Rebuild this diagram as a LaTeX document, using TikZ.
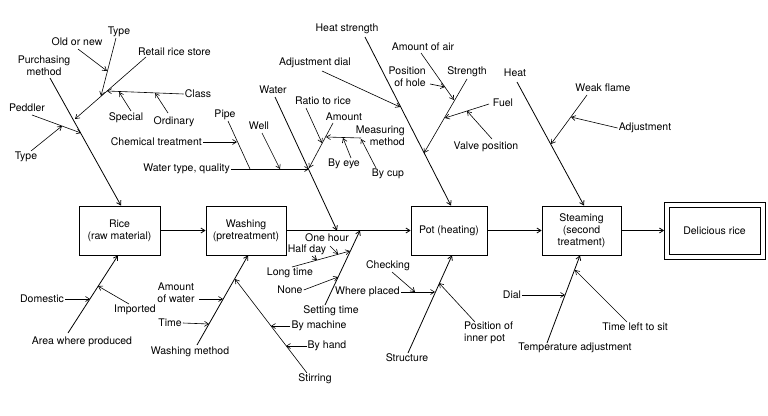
\documentclass[tikz,border=0pt]{standalone}
\usepackage{fontspec}
\setmainfont{TeX Gyre Heros}
\usetikzlibrary{arrows.meta}
\begin{document}
\begin{tikzpicture}[x=1pt,y=-1pt,>={Straight Barb[length=4pt,width=5pt]},
  font=\fontsize{10.5}{12}\selectfont,
  box/.style={draw,line width=0.8pt,minimum height=49pt,align=center,inner sep=2pt},
  lbl/.style={inner sep=1pt,align=center},
  bone/.style={line width=0.8pt},
  twig/.style={line width=0.6pt,->}]
\useasboundingbox (0,0) rectangle (768,415);
% process boxes on the spine
\node[box,minimum width=81pt] (rice) at (119.5,230.5) {Rice\\(raw material)};
\node[box,minimum width=80pt] (wash) at (246,230.5) {Washing\\(pretreatment)};
\node[box,minimum width=76pt] (pot) at (449,230.5) {Pot (heating)};
\node[box,minimum width=79pt] (steam) at (581.5,230.5) {Steaming\\(second\\treatment)};
\node[box,minimum width=91pt,minimum height=47pt] (result) at (714.5,230.5) {Delicious rice};
\draw[line width=0.8pt] ([shift={(-4.5pt,-4.5pt)}]result.south west) rectangle ([shift={(4.5pt,4.5pt)}]result.north east);
\draw[bone,->] (rice) -- (wash);
\draw[bone,->] (wash) -- (pot);
\draw[bone,->] (pot) -- (steam);
\draw[bone,->] (steam) -- ([xshift=-4.5pt]result.west);

% rice, upper
\node[lbl] (purch) at (44,66) {Purchasing\\method};
\node[lbl,anchor=west] (retail) at (137,52) {Retail rice store};
\node[lbl] (typeA) at (119,32) {Type};
\node[lbl] (oldnew) at (77,42) {Old or new};
\node[lbl] (class) at (198,94) {Class};
\node[lbl] (special) at (126,118) {Special};
\node[lbl] (ordin) at (174,122) {Ordinary};
\node[lbl] (peddler) at (27,108) {Peddler};
\node[lbl] (typeB) at (26,157) {Type};
\coordinate (pm) at (50,78);
\coordinate (rs) at (146,57); \coordinate (rsE) at (75,119);
\coordinate (ty) at (116,38); \coordinate (tyE) at (101,96);
\coordinate (on) at (78,49); \coordinate (onE) at (107,71);
\coordinate (clE) at (107,91);
\coordinate (sp) at (131,111); \coordinate (spE) at (119,92);
\coordinate (or) at (168,113); \coordinate (orE) at (155,93);
\coordinate (pd) at (32,115); \coordinate (pdE) at (81,133);
\coordinate (pt) at (31,151); \coordinate (ptE) at (62,126);
\draw[bone,->] (pm) -- ([xshift=1.5pt]rice.north);
\draw[twig] (rs) -- (rsE);
\draw[twig] (ty) -- (tyE);
\draw[twig] (on) -- (onE);
\draw[twig] (class.west) -- (clE);
\draw[twig] (sp) -- (spE);
\draw[twig] (or) -- (orE);
\draw[twig] (pd) -- (pdE);
\draw[twig] (pt) -- (ptE);

% washing, upper
\node[lbl] (water) at (273,90) {Water};
\node[lbl,anchor=east] (wtq) at (231,169) {Water type, quality};
\node[lbl] (pipe) at (225,115) {Pipe};
\node[lbl,anchor=east] (chem) at (203,142) {Chemical treatment};
\node[lbl] (well) at (259,126) {Well};
\node[lbl] (ratio) at (323,101) {Ratio to rice};
\node[lbl] (amount) at (344,117) {Amount};
\node[lbl,anchor=east,align=right] (meas) at (406,136) {Measuring\\method};
\node[lbl] (byeye) at (344,164) {By eye};
\node[lbl] (bycup) at (388,174) {By cup};
\coordinate (wa) at (275,97); \coordinate (waE) at (337,230.5);
\coordinate (wtqE) at (309,169);
\coordinate (pi) at (228,121); \coordinate (piE) at (250,169);
\coordinate (chemE) at (237,142);
\coordinate (we) at (262,133); \coordinate (weE) at (280,169);
\coordinate (am) at (333,123); \coordinate (amE) at (309,168);
\coordinate (rr) at (306,108); \coordinate (rrE) at (322,143);
\coordinate (ms) at (361,138); \coordinate (msE) at (326,137);
\coordinate (be) at (351,158); \coordinate (beE) at (343,138);
\coordinate (bc) at (376,168); \coordinate (bcE) at (361,139);
\draw[bone,->] (wa) -- (waE);
\draw[twig] (wtq.east) -- (wtqE);
\draw[line width=0.6pt] (pi) -- (piE);
\draw[twig] (chem.east) -- (chemE);
\draw[twig] (we) -- (weE);
\draw[twig] (am) -- (amE);
\draw[twig] (rr) -- (rrE);
\draw[twig] (ms) -- (msE);
\draw[twig] (be) -- (beE);
\draw[twig] (bc) -- (bcE);

% pot, upper
\node[lbl] (heatst) at (347,29) {Heat strength};
\node[lbl] (adjd) at (315,63) {Adjustment dial};
\node[lbl] (air) at (423,47) {Amount of air};
\node[lbl,anchor=east,align=right] (hole) at (427,77) {Position\\of hole};
\node[lbl] (strength) at (467,72) {Strength};
\node[lbl] (fuel) at (503,103) {Fuel};
\node[lbl] (valve) at (486,147) {Valve position};
\coordinate (hs) at (365,37);
\coordinate (ad) at (322,71); \coordinate (adE) at (400,107);
\coordinate (st) at (467,79); \coordinate (stE) at (424,153);
\coordinate (aa) at (421,53); \coordinate (aaE) at (454,100);
\coordinate (ph) at (430,84); \coordinate (phE) at (445,87);
\coordinate (fu) at (489,104); \coordinate (fuE) at (445,118);
\coordinate (vp) at (492,139); \coordinate (vpE) at (467,111);
\draw[bone,->] (hs) -- ([xshift=2pt]pot.north);
\draw[twig] (ad) -- (adE);
\draw[twig] (st) -- (stE);
\draw[twig] (aa) -- (aaE);
\draw[twig] (ph) -- (phE);
\draw[twig] (fu) -- (fuE);
\draw[twig] (vp) -- (vpE);

% steaming, upper
\node[lbl] (heat) at (515,73) {Heat};
\node[lbl] (weak) at (603,88) {Weak flame};
\node[lbl] (adj) at (645,128) {Adjustment};
\coordinate (he) at (517,82);
\coordinate (wf) at (587,95); \coordinate (wfE) at (551,144);
\coordinate (ajE) at (571,117);
\draw[bone,->] (he) -- ([xshift=2.5pt]steam.north);
\draw[twig] (wf) -- (wfE);
\draw[twig] (adj.west) -- (ajE);

% rice, lower
\node[lbl] (area) at (82,342) {Area where produced};
\node[lbl] (dom) at (42,299) {Domestic};
\node[lbl] (imp) at (135,310) {Imported};
\coordinate (ap) at (68,333);
\coordinate (domE) at (90,299);
\coordinate (im) at (129,304); \coordinate (imE) at (98,286);
\draw[bone,->] (ap) -- ([xshift=-1.5pt]rice.south);
\draw[twig] (dom.east) -- (domE);
\draw[twig] (im) -- (imE);

% washing, lower
\node[lbl] (amw) at (176,293) {Amount\\of water};
\node[lbl] (time) at (170,323) {Time};
\node[lbl] (wmeth) at (190,352) {Washing method};
\node[lbl] (stir) at (315,379) {Stirring};
\node[lbl] (bymach) at (319,326) {By machine};
\node[lbl] (byhand) at (327,346) {By hand};
\coordinate (wm) at (197,345);
\coordinate (aw) at (199,299); \coordinate (awE) at (223,299);
\coordinate (timeE) at (209,324);
\coordinate (sr) at (307,373); \coordinate (srE) at (235,279);
\coordinate (bmE) at (271,326);
\coordinate (bhE) at (286,346);
\draw[bone,->] (wm) -- ([xshift=2pt]wash.south);
\draw[twig] (aw) -- (awE);
\draw[twig] (time.east) -- (timeE);
\draw[twig] (sr) -- (srE);
\draw[twig] (bymach.west) -- (bmE);
\draw[twig] (byhand.west) -- (bhE);

% setting time
\node[lbl] (onehr) at (327,238) {One hour};
\node[lbl] (halfd) at (307,250) {Half day};
\node[lbl] (longt) at (290,273) {Long time};
\node[lbl] (none) at (290,290) {None};
\node[lbl] (sett) at (331,311) {Setting time};
\coordinate (se) at (325,305); \coordinate (seE) at (360,230.5);
\coordinate (lt) at (292,267); \coordinate (ltE) at (350,251);
\coordinate (hd) at (312,256); \coordinate (hdE) at (317,260);
\coordinate (oh) at (330,246); \coordinate (ohE) at (338,254);
\coordinate (noE) at (338,277);
\draw[bone,->] (se) -- (seE);
\draw[twig] (lt) -- (ltE);
\draw[twig] (hd) -- (hdE);
\draw[twig] (oh) -- (ohE);
\draw[twig] (none.east) -- (noE);

% pot, lower
\node[lbl] (check) at (388,266) {Checking};
\node[lbl,anchor=east] (wplace) at (401,292) {Where placed};
\node[lbl] (struct) at (407,358) {Structure};
\node[lbl,anchor=west,align=left] (inner) at (463,333) {Position of\\inner pot};
\coordinate (str) at (408,353);
\coordinate (wpE) at (435,292);
\coordinate (ck) at (392,272); \coordinate (ckE) at (415,292);
\coordinate (ip) at (475,322); \coordinate (ipE) at (439,283);
\draw[bone,->] (str) -- ([xshift=3pt]pot.south);
\draw[twig] (wplace.east) -- (wpE);
\draw[twig] (ck) -- (ckE);
\draw[twig] (ip) -- (ipE);

% steaming, lower
\node[lbl] (dial) at (512,295) {Dial};
\node[lbl] (tleft) at (635,327) {Time left to sit};
\node[lbl] (tadj) at (575,348) {Temperature adjustment};
\coordinate (ta) at (547,343);
\coordinate (diE) at (565,295);
\coordinate (tl) at (627,322); \coordinate (tlE) at (575,270);
\draw[bone,->] (ta) -- ([xshift=-1.5pt]steam.south);
\draw[twig] (dial.east) -- (diE);
\draw[twig] (tl) -- (tlE);
\end{tikzpicture}
\end{document}
